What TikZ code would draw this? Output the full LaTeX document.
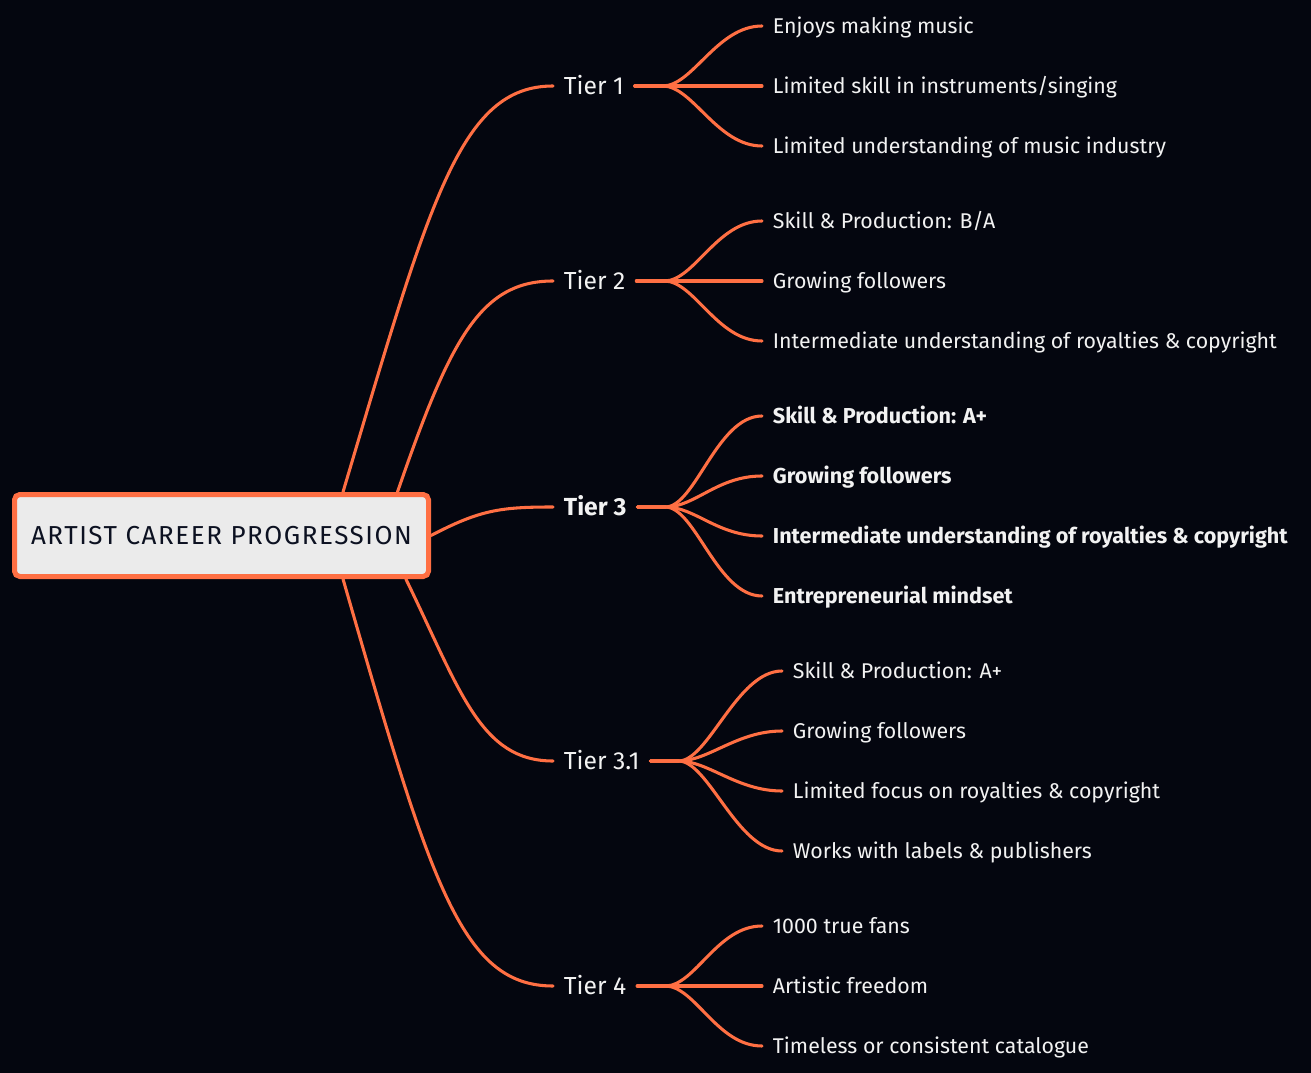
\documentclass[tikz,border=0pt]{standalone}
\usepackage{fontspec}
\setmainfont{Fira Sans}
\newfontfamily\titlefont[LetterSpace=6]{Fira Sans}
\usetikzlibrary{positioning,calc}
\definecolor{bgc}{HTML}{04060F}
\definecolor{branchc}{HTML}{FF6F43}
\definecolor{rootfill}{HTML}{EBEBEB}
\definecolor{textc}{HTML}{F2F2F2}
\definecolor{titlec}{HTML}{0C1121}

\begin{document}
\begin{tikzpicture}[x=0.75pt,y=-0.75pt,
    root/.style={draw=branchc,line width=3.75pt,fill=rootfill,rounded corners=4pt,minimum width=310.5pt,minimum height=61.5pt,text=titlec,font=\titlefont\fontsize{19.5}{22}\selectfont},
    tier/.style={anchor=west,inner xsep=8pt,text height=12.8pt,text depth=0pt,text=textc,font=\fontsize{18.5}{20}\selectfont},
    leaf/.style={anchor=west,inner xsep=8pt,text height=11.2pt,text depth=0pt,text=textc,font=\fontsize{16}{18}\selectfont},
    branch/.style={draw=branchc,line width=2.3pt,line cap=round},
]
    \fill[bgc] (0,0) rectangle (1311,1073);

    \node[root] (root) at (221.5,535.5) {ARTIST CAREER PROGRESSION};

    \node[tier] (t1) at (553,86) {Tier 1};
    \node[tier] (t2) at (553,281) {Tier 2};
    \node[tier,font=\bfseries\fontsize{18.5}{20}\selectfont] (t3) at (553,507) {Tier 3};
    \node[tier] (t31) at (553,761) {Tier 3.1};
    \node[tier] (t4) at (553,986) {Tier 4};

    \node[leaf] (t1a) at (762,26) {Enjoys making music};
    \node[leaf] (t1b) at (762,86) {Limited skill in instruments/singing};
    \node[leaf] (t1c) at (762,146) {Limited understanding of music industry};

    \node[leaf] (t2a) at (762,221) {Skill \& Production: B/A};
    \node[leaf] (t2b) at (762,281) {Growing followers};
    \node[leaf] (t2c) at (762,341) {Intermediate understanding of royalties \& copyright};

    \begin{scope}[leaf/.append style={font=\bfseries\fontsize{16.2}{18}\selectfont}]
    \node[leaf] (t3a) at (762,416) {Skill \& Production: A+};
    \node[leaf] (t3b) at (762,476) {Growing followers};
    \node[leaf] (t3c) at (762,536) {Intermediate understanding of royalties \& copyright};
    \node[leaf] (t3d) at (762,596) {Entrepreneurial mindset};
    \end{scope}

    \node[leaf] (t31a) at (782,671) {Skill \& Production: A+};
    \node[leaf] (t31b) at (782,731) {Growing followers};
    \node[leaf] (t31c) at (782,791) {Limited focus on royalties \& copyright};
    \node[leaf] (t31d) at (782,851) {Works with labels \& publishers};

    \node[leaf] (t4a) at (762,926) {1000 true fans};
    \node[leaf] (t4b) at (762,986) {Artistic freedom};
    \node[leaf] (t4c) at (762,1046) {Timeless or consistent catalogue};

    \draw[branch] ($(root.north west)!0.79!(root.north east)$) .. controls (430,200) and (460,86) .. (t1.west);
    \draw[branch] ($(root.north west)!0.92!(root.north east)$) .. controls (450,340) and (480,281) .. (t2.west);
    \draw[branch] (root.east) .. controls (480,510) and (500,507) .. (t3.west);
    \draw[branch] ($(root.south west)!0.94!(root.south east)$) .. controls (460,690) and (480,761) .. (t31.west);
    \draw[branch] ($(root.south west)!0.79!(root.south east)$) .. controls (430,880) and (460,986) .. (t4.west);

    \draw[branch] (t1.east) -- ++(28,0) .. controls +(30,0) and +(-45,0) .. (t1a.west);
    \draw[branch] (t1.east) -- (t1b.west);
    \draw[branch] (t1.east) -- ++(28,0) .. controls +(30,0) and +(-45,0) .. (t1c.west);

    \draw[branch] (t2.east) -- ++(28,0) .. controls +(30,0) and +(-45,0) .. (t2a.west);
    \draw[branch] (t2.east) -- (t2b.west);
    \draw[branch] (t2.east) -- ++(28,0) .. controls +(30,0) and +(-45,0) .. (t2c.west);

    \draw[branch] (t3.east) -- ++(28,0) .. controls +(30,0) and +(-45,0) .. (t3a.west);
    \draw[branch] (t3.east) -- ++(28,0) .. controls +(30,0) and +(-45,0) .. (t3b.west);
    \draw[branch] (t3.east) -- ++(28,0) .. controls +(30,0) and +(-45,0) .. (t3c.west);
    \draw[branch] (t3.east) -- ++(28,0) .. controls +(30,0) and +(-45,0) .. (t3d.west);

    \draw[branch] (t31.east) -- ++(28,0) .. controls +(30,0) and +(-45,0) .. (t31a.west);
    \draw[branch] (t31.east) -- ++(28,0) .. controls +(30,0) and +(-45,0) .. (t31b.west);
    \draw[branch] (t31.east) -- ++(28,0) .. controls +(30,0) and +(-45,0) .. (t31c.west);
    \draw[branch] (t31.east) -- ++(28,0) .. controls +(30,0) and +(-45,0) .. (t31d.west);

    \draw[branch] (t4.east) -- ++(28,0) .. controls +(30,0) and +(-45,0) .. (t4a.west);
    \draw[branch] (t4.east) -- (t4b.west);
    \draw[branch] (t4.east) -- ++(28,0) .. controls +(30,0) and +(-45,0) .. (t4c.west);
\end{tikzpicture}
\end{document}
